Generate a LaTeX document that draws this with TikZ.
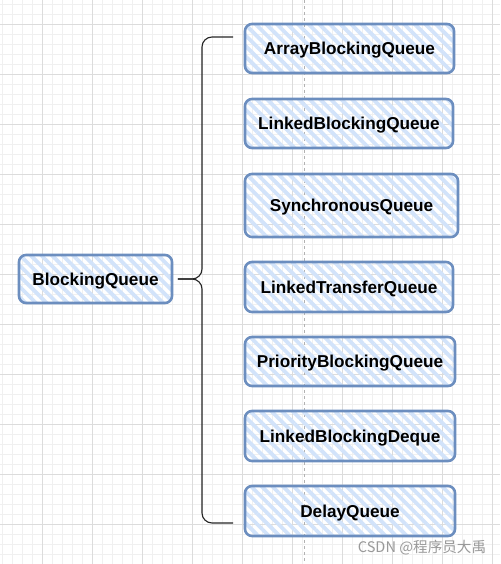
\documentclass[tikz,border=0pt]{standalone}
\usepackage{fontspec}
\setmainfont{Liberation Sans}
\newfontfamily\cjkfont{Noto Sans CJK SC}
\usetikzlibrary{patterns.meta}
\definecolor{queueline}{HTML}{6C8EBF}
\definecolor{queuefill}{HTML}{D2E3FA}
\definecolor{gridmajor}{HTML}{DCDCDC}
\definecolor{gridminor}{HTML}{F0F0F0}
\begin{document}
\begin{tikzpicture}[x=1pt,y=-1pt,
    queue/.style={draw=queueline, line width=2.6pt, rounded corners=7pt,
      pattern={Lines[angle=-45,distance=7.5pt,line width=3.8pt]}, pattern color=queuefill,
      font=\fontsize{17.2}{20}\selectfont\bfseries, inner sep=0pt,
      text height=12.3pt, text depth=0pt,
      minimum width=209pt, minimum height=49pt},
    brace/.style={draw=black!85, line width=1.1pt, rounded corners=10pt},
    watermark/.style={text=black!40, font=\cjkfont\fontsize{14.6}{16}\selectfont}]
      \useasboundingbox (0,0) rectangle (500,564);
      \fill[white] (0,0) rectangle (500,564);
      % grid
      \foreach \x in {2.5,12.5,...,502.5} \draw[gridminor,line width=0.6pt] (\x,0) -- (\x,564);
      \foreach \y in {4,14,...,564} \draw[gridminor,line width=0.6pt] (0,\y) -- (500,\y);
      \foreach \x in {42.5,92.5,...,502.5} \draw[gridmajor,line width=0.8pt] (\x,0) -- (\x,564);
      \foreach \y in {24,74,...,564} \draw[gridmajor,line width=0.8pt] (0,\y) -- (500,\y);
      \draw[black!30,dashed,line width=0.8pt] (304.5,0) -- (304.5,564);
      \draw
        (95.5,279) node[queue,minimum width=153pt,minimum height=48pt] (0){BlockingQueue}
        (349.5,48.5) node[queue] (1){ArrayBlockingQueue}
        (349,123.5) node[queue,minimum width=208pt] (2){LinkedBlockingQueue}
        (351.5,205.5) node[queue,minimum width=213pt,minimum height=63pt] (3){SynchronousQueue}
        (349,287) node[queue,minimum width=208pt,minimum height=50pt] (4){LinkedTransferQueue}
        (350,361.5) node[queue,minimum width=210pt] (5){PriorityBlockingQueue}
        (350,436) node[queue,minimum width=210pt,minimum height=50pt] (6){LinkedBlockingDeque}
        (350,511) node[queue,minimum width=210pt,minimum height=50pt] (7){DelayQueue};
      \coordinate (spine) at (202,279);
      \coordinate (top) at (233,37);
      \coordinate (bottom) at (233,523);
      \begin{scope}[brace]
        \draw ([xshift=4pt]0.east) -- (spine) |- (top);
        \draw ([xshift=4pt]0.east) -- (spine) |- (bottom);
      \end{scope}
      \node[watermark] (w) at (422,548) {CSDN @程序员大禹};
    \end{tikzpicture}
\end{document}
